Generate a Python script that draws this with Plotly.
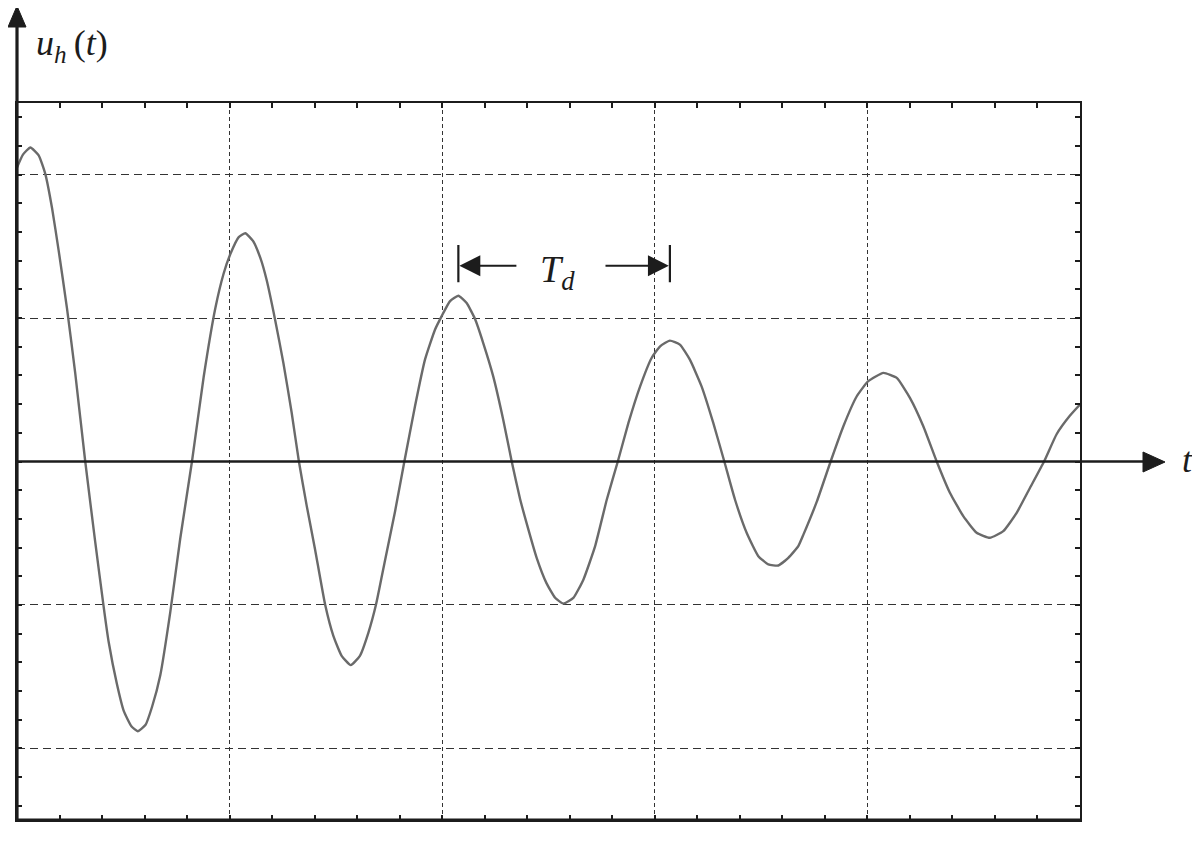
import plotly.graph_objects as go

# ---- data (x and y in grid divisions) ----
t_vals = [0.0, 0.028, 0.063, 0.102, 0.133, 0.165, 0.196, 0.235, 0.274, 0.321,
          0.368, 0.408, 0.431, 0.470, 0.502, 0.538, 0.568, 0.604, 0.635, 0.674,
          0.721, 0.768, 0.823, 0.878, 0.933, 0.972, 1.003, 1.043, 1.074, 1.110,
          1.145, 1.174, 1.214, 1.253, 1.292, 1.326, 1.363, 1.402, 1.449, 1.488,
          1.527, 1.570, 1.613, 1.653, 1.689, 1.731, 1.778, 1.822, 1.872, 1.919,
          1.966, 1.997, 2.036, 2.076, 2.115, 2.154, 2.193, 2.240, 2.287, 2.327,
          2.366, 2.397, 2.444, 2.491, 2.531, 2.570, 2.617, 2.664, 2.719, 2.774,
          2.826, 2.876, 2.931, 2.985, 3.025, 3.071, 3.118, 3.165, 3.220, 3.275,
          3.327, 3.377, 3.432, 3.487, 3.534, 3.581, 3.628, 3.675, 3.699, 3.762,
          3.827, 3.887, 3.950, 4.004, 4.075, 4.138, 4.200, 4.263, 4.326, 4.388,
          4.451, 4.514, 4.576, 4.639, 4.702, 4.765, 4.831, 4.890, 4.953, 5.0]
u_vals = [2.05, 2.14, 2.19, 2.135, 2.006, 1.766, 1.471, 1.07, 0.615, 0.0,
          -0.562, -1.017, -1.257, -1.552, -1.739, -1.846, -1.881, -1.838, -1.712, -1.49,
          -1.05, -0.535, 0.0, 0.589, 1.07, 1.311, 1.445, 1.565, 1.592, 1.538,
          1.418, 1.267, 0.989, 0.687, 0.34, 0.0, -0.311, -0.613, -0.996, -1.216,
          -1.355, -1.42, -1.355, -1.193, -0.996, -0.69, -0.35, 0.0, 0.385, 0.71,
          0.919, 1.012, 1.117, 1.156, 1.105, 0.995, 0.826, 0.594, 0.292, 0.0,
          -0.26, -0.43, -0.67, -0.85, -0.95, -0.991, -0.951, -0.824, -0.592, -0.267,
          0.0, 0.269, 0.524, 0.722, 0.803, 0.843, 0.815, 0.71, 0.524, 0.269,
          0.0, -0.265, -0.497, -0.66, -0.718, -0.725, -0.672, -0.59, -0.51, -0.28,
          0.0, 0.246, 0.455, 0.56, 0.618, 0.583, 0.444, 0.246, 0.0, -0.218,
          -0.381, -0.497, -0.532, -0.486, -0.358, -0.183, 0.0, 0.19, 0.32, 0.397]

x_range = [0, 5]
y_range = [-2.5, 2.5]
y_label = "<i>u</i><sub><i>h</i></sub>\u2009(<i>t</i>)"
x_label = "<i>t</i>"
period_label = "<i>T</i><sub><i>d</i></sub>"

# ---- layout geometry (reference pixels; page adds an 8px body margin) ----
OFF = 8
W_FIG, H_FIG = 1200 - OFF, 852 - OFF
L, R, T, B = 17, 1080, 103, 820
PW, PH = R - L, B - T


def px(xp):
    return (xp - L) / PW


def py(yp):
    return (B - yp) / PH


INK = "#1c1c1c"
SERIF = "Liberation Serif, Times New Roman, serif"

fig = go.Figure()
fig.add_trace(go.Scatter(x=t_vals, y=u_vals, mode="lines",
                         line=dict(color="#6a6a6a", width=2.4, shape="spline", smoothing=0.45),
                         hoverinfo="skip", showlegend=False))

axis_common = dict(showticklabels=False, showline=True, linecolor=INK, linewidth=2,
                   mirror="ticks", ticks="inside", ticklen=5, tickwidth=2, tickcolor=INK,
                   zeroline=False, showgrid=True, gridcolor="#333333", gridwidth=1.2,
                   fixedrange=True)

fig.update_xaxes(range=x_range, dtick=1, tick0=0, griddash="4px,3px",
                 minor=dict(dtick=0.2, tick0=0, ticks="inside", ticklen=5, tickwidth=2,
                            tickcolor=INK, showgrid=False),
                 **axis_common)
fig.update_yaxes(range=y_range, dtick=1, tick0=0, griddash="8px,5px",
                 minor=dict(dtick=0.2, tick0=0, ticks="inside", ticklen=5, tickwidth=2,
                            tickcolor=INK, showgrid=False),
                 **axis_common)

shapes = []
# thicker left (vertical axis) line extending up to its arrow
shapes.append(dict(type="line", xref="paper", yref="paper", x0=0, x1=0, y0=py(B + 1.5), y1=py(24),
                   line=dict(color=INK, width=3.2), layer="above"))
# thicker bottom line
shapes.append(dict(type="line", xref="paper", yref="paper", x0=px(L - 1.5), x1=1, y0=0, y1=0,
                   line=dict(color=INK, width=3.2), layer="above"))
# horizontal t axis at u = 0
shapes.append(dict(type="line", xref="paper", yref="y", x0=0, x1=px(1146), y0=0, y1=0,
                   line=dict(color=INK, width=2.6), layer="above"))
# arrow heads
shapes.append(dict(type="path", xref="paper", yref="paper", layer="above",
                   path=f"M {px(17)},{py(6)} L {px(8)},{py(27)} L {px(26)},{py(27)} Z",
                   fillcolor=INK, line=dict(color=INK, width=1)))
shapes.append(dict(type="path", xref="paper", yref="paper", layer="above",
                   path=f"M {px(1165)},{py(462)} L {px(1143)},{py(452)} L {px(1143)},{py(472)} Z",
                   fillcolor=INK, line=dict(color=INK, width=1)))

# T_d marker: between peak 3 and peak 4 of the series
peaks = [i for i in range(1, len(u_vals) - 1) if u_vals[i] > u_vals[i - 1] and u_vals[i] >= u_vals[i + 1]]
xa, xb = t_vals[peaks[2]], t_vals[peaks[3]]
bar_lo, bar_hi, arr_y = 1.25, 1.51, 1.365
for xv in (xa, xb):
    shapes.append(dict(type="line", xref="x", yref="y", x0=xv, x1=xv, y0=bar_lo, y1=bar_hi,
                       line=dict(color=INK, width=2.2), layer="above"))
fig.update_layout(shapes=shapes)

annotations = [
    dict(text=y_label, xref="paper", yref="paper", x=px(34), y=py(46), xanchor="left",
         yanchor="middle", showarrow=False, font=dict(family=SERIF, size=36, color=INK)),
    dict(text=x_label, xref="paper", yref="paper", x=px(1187), y=py(460), xanchor="center",
         yanchor="middle", showarrow=False, font=dict(family=SERIF, size=36, color=INK)),
    dict(text=period_label, xref="x", yref="y", x=(xa + xb) / 2 - 0.03, y=arr_y - 0.04,
         xanchor="center", yanchor="middle", showarrow=False,
         font=dict(family=SERIF, size=38, color=INK)),
    # left arrow of T_d
    dict(text="", xref="x", yref="y", x=xa + 0.005, y=arr_y, ax=xa + 0.28, ay=arr_y,
         axref="x", ayref="y", showarrow=True, arrowhead=2, arrowsize=1.9, arrowwidth=2.2,
         arrowcolor=INK),
    # right arrow of T_d
    dict(text="", xref="x", yref="y", x=xb - 0.005, y=arr_y, ax=xb - 0.31, ay=arr_y,
         axref="x", ayref="y", showarrow=True, arrowhead=2, arrowsize=1.9, arrowwidth=2.2,
         arrowcolor=INK),
]
fig.update_layout(annotations=annotations)

fig.update_layout(width=W_FIG, height=H_FIG,
                  margin=dict(l=L - OFF, r=W_FIG - (R - OFF), t=T - OFF, b=H_FIG - (B - OFF), pad=0),
                  paper_bgcolor="white", plot_bgcolor="white", showlegend=False)

fig.write_html("out.html", config={"displayModeBar": False})
